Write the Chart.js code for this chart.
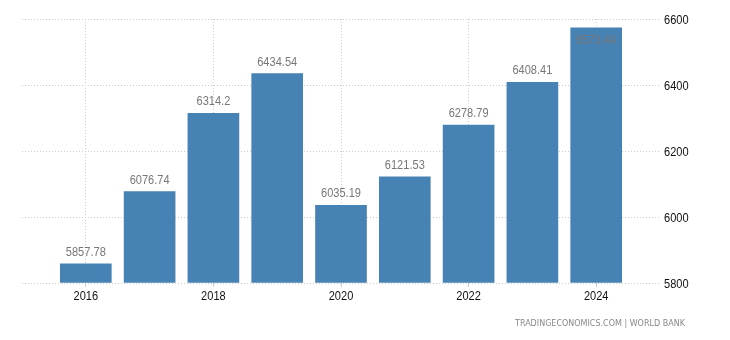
<!DOCTYPE html>
<html>
<head>
<meta charset="utf-8">
<script src="https://cdn.jsdelivr.net/npm/chart.js@4.4.0/dist/chart.umd.min.js"></script>
<style>
  body { margin: 0; background: #fff; }
  #wrap { position: relative; width: 730px; height: 340px; }
  #source { position: absolute; right: 45px; top: 318px; font: 9px "DejaVu Sans", Verdana, sans-serif; color: #888; white-space: nowrap; transform: scaleX(0.89); transform-origin: right center; }
</style>
</head>
<body>
<div id="wrap">
  <canvas id="chart" width="730" height="340"></canvas>
  <div id="source">TRADINGECONOMICS.COM | WORLD BANK</div>
</div>
<script>
const years = [2016, 2017, 2018, 2019, 2020, 2021, 2022, 2023, 2024];
const values = [5857.78, 6076.74, 6314.2, 6434.54, 6035.19, 6121.53, 6278.79, 6408.41, 6573.44];
const xTicks = [2016, 2018, 2020, 2022, 2024];
const yTicks = [5800, 6000, 6200, 6400, 6600];

const FONT = '13px "Liberation Sans", Arial, sans-serif';
const SQUEEZE = 0.85; // the original uses a narrow font
const ctx = document.getElementById('chart');

function narrowText(c, txt, x, y, align) {
    c.save();
    c.translate(x, y);
    c.scale(SQUEEZE, 1);
    c.textAlign = align;
    c.fillText(txt, 0, 0);
    c.restore();
}

// value labels above each bar (inside the bar when it's too close to the top)
const barLabels = {
    id: 'barLabels',
    afterDatasetsDraw(chart) {
        const c = chart.ctx;
        const meta = chart.getDatasetMeta(0);
        c.save();
        c.font = FONT;
        c.fillStyle = '#777';
        c.textBaseline = 'alphabetic';
        meta.data.forEach((bar, i) => {
            const txt = String(values[i]);
            if (bar.y - chart.chartArea.top < 25) {
                narrowText(c, txt, bar.x, bar.y + 16, 'center');
            } else {
                narrowText(c, txt, bar.x, bar.y - 8, 'center');
            }
        });
        c.restore();
    }
};

// axis labels drawn by hand so they can be squeezed
const axisLabels = {
    id: 'axisLabels',
    afterDraw(chart) {
        const c = chart.ctx;
        const xs = chart.scales.x, ys = chart.scales.y;
        c.save();
        c.font = FONT;
        c.fillStyle = '#111';
        c.textBaseline = 'alphabetic';
        xTicks.forEach(v => narrowText(c, String(v), xs.getPixelForValue(v), chart.chartArea.bottom + 17, 'center'));
        yTicks.forEach(v => narrowText(c, String(v), chart.chartArea.right + 4, ys.getPixelForValue(v) + 4.5, 'left'));
        c.restore();
    }
};

new Chart(ctx, {
    type: 'bar',
    data: {
        datasets: [{
            data: years.map((y, i) => ({ x: y, y: values[i] })),
            backgroundColor: '#4682b4',
            barThickness: 51,
            base: 5800
        }]
    },
    plugins: [barLabels, axisLabels],
    options: {
        responsive: false,
        animation: false,
        layout: { padding: { left: 22, top: 19, right: 0, bottom: 0 } },
        plugins: {
            legend: { display: false },
            tooltip: { enabled: false }
        },
        scales: {
            x: {
                type: 'linear',
                min: 2015,
                max: 2025,
                offset: false,
                afterBuildTicks: s => { s.ticks = xTicks.map(v => ({ value: v })); },
                afterFit: s => { s.height = 57; },
                border: { display: false, dash: [1, 2] },
                grid: {
                    offset: false,
                    color: '#ccc',
                    tickLength: 4,
                    tickColor: '#ccc'
                },
                ticks: { display: false }
            },
            y: {
                position: 'right',
                min: 5800,
                max: 6600,
                afterBuildTicks: s => { s.ticks = yTicks.map(v => ({ value: v })); },
                afterFit: s => { s.width = 70; },
                border: { display: false, dash: [1, 2] },
                grid: {
                    color: '#ccc',
                    drawTicks: false
                },
                ticks: { display: false }
            }
        }
    }
});
</script>
</body>
</html>
